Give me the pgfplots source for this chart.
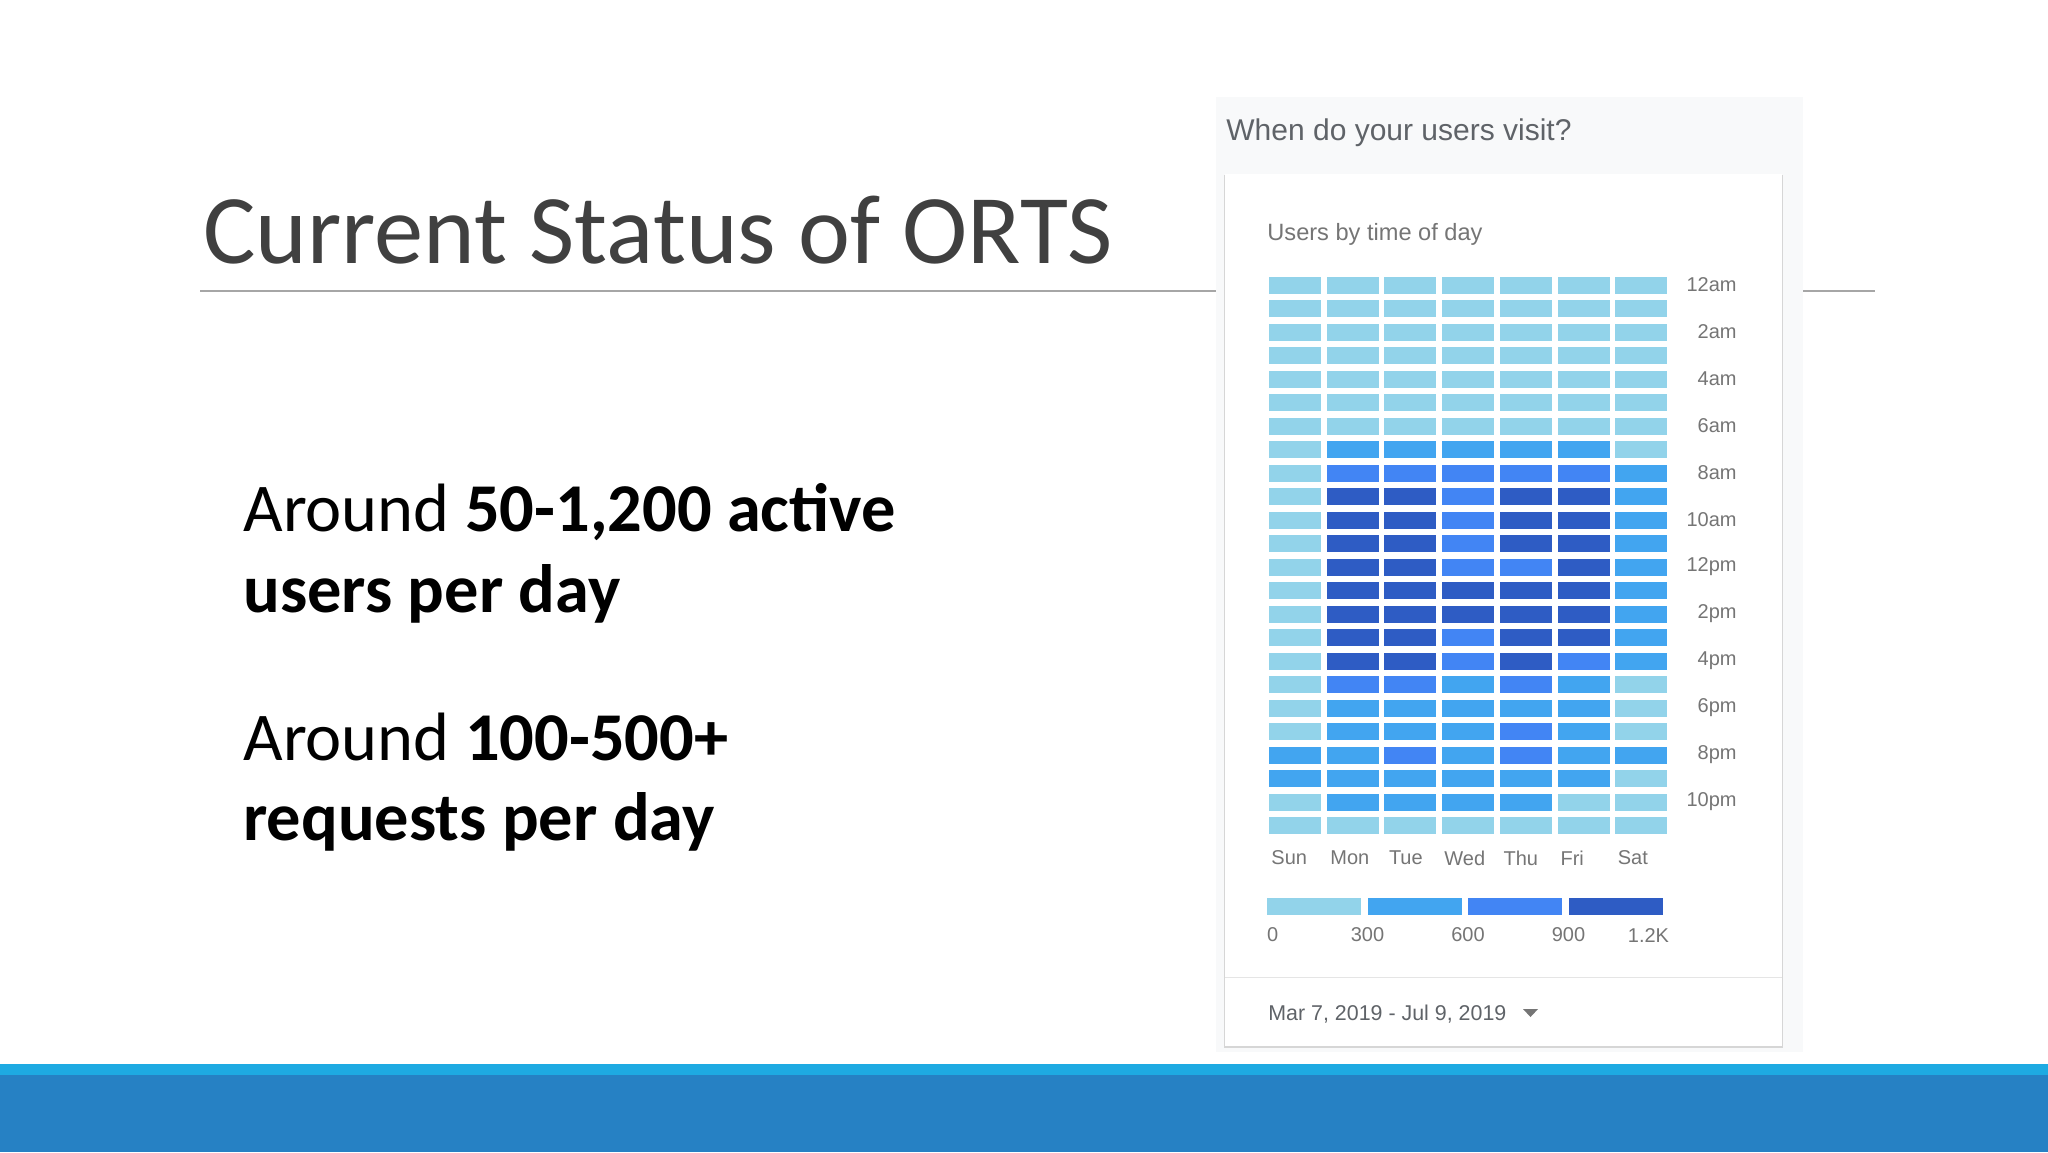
\documentclass[border=0pt]{standalone}
\usepackage{fontspec}
\usepackage{pgfplots}
\pgfplotsset{compat=1.18}
\setmainfont{Carlito}
\newfontfamily\ui{Liberation Sans}

\definecolor{lv1}{RGB}{146,211,234}
\definecolor{lv2}{RGB}{66,165,240}
\definecolor{lv3}{RGB}{66,133,244}
\definecolor{lv4}{RGB}{46,92,196}
\definecolor{titlegray}{RGB}{64,64,64}
\definecolor{rulegray}{RGB}{166,166,166}
\definecolor{panelbg}{RGB}{248,249,250}
\definecolor{uigray}{RGB}{95,99,104}
\definecolor{labgray}{RGB}{117,117,117}
\definecolor{barlight}{RGB}{30,170,226}
\definecolor{bardark}{RGB}{38,129,196}

% one cell of the heat map: 52 x 17 px
\pgfdeclareplotmark{cell}{%
  \pgfpathrectangle{\pgfqpoint{-13pt}{-4.25pt}}{\pgfqpoint{26pt}{8.5pt}}%
  \pgfusepathqfill}

\begin{document}
\begin{tikzpicture}
% slide background, in reference pixels (1px = 0.5pt, y down)
\begin{scope}[x=0.5pt,y=-0.5pt]
  \path (0,0) rectangle (2048,1152);
  \fill[barlight] (0,1064) rectangle (2048,1075);
  \fill[bardark] (0,1075) rectangle (2048,1152);

  \node[anchor=base west, inner sep=0, text=titlegray,
        font=\fontsize{49.2pt}{49.2pt}\selectfont] at (203,263) {Current Status of ORTS};
  \draw[rulegray, line width=1pt] (200,291) -- (1875,291);

  \begin{scope}[every node/.style={anchor=base west, inner sep=0,
        font=\fontsize{34.2pt}{34.2pt}\selectfont}]
    \node at (243,531) {Around \textbf{50-1,200 active}};
    \node at (243,612) {\textbf{users per day}};
    \node at (243,760) {Around \textbf{100-500+}};
    \node at (243,840) {\textbf{requests per day}};
  \end{scope}

  \fill[panelbg] (1216,97) rectangle (1803,1052);
  \fill[black!16] (1224,175) rectangle (1783,1048);
  \fill[white] (1225,174) rectangle (1782,1046);
  \draw[black!10, line width=0.5pt] (1225,977) -- (1782,977);

  \node[anchor=base west, inner sep=0, text=uigray,
        font=\ui\fontsize{15pt}{15pt}\selectfont] at (1226,140) {When do your users visit?};
  \node[anchor=base west, inner sep=0, text=labgray,
        font=\ui\fontsize{11.8pt}{11.8pt}\selectfont] at (1267,240) {Users by time of day};
  \node[anchor=base west, inner sep=0, text=uigray,
        font=\ui\fontsize{10.7pt}{10.7pt}\selectfont] at (1268,1020) {Mar 7, 2019 - Jul 9, 2019};
  \fill[labgray] (1523,1009) -- (1538,1009) -- (1530.5,1017) -- cycle;
\end{scope}

% users by hour (rows) and weekday (columns); a: 0-300, b: 300-600, c: 600-900, d: 900-1.2K
\begin{axis}[
  at={(633.05pt,-136.625pt)}, anchor=north west,
  scale only axis, width=202.125pt, height=282pt,
  xmin=-0.5, xmax=6.5, ymin=-0.5, ymax=23.5, y dir=reverse,
  axis line style={draw=none}, major tick length=0pt,
  xtick={-0.1,0.95,1.92,2.94,3.91,4.8,5.85},
  xticklabels={Sun,Mon,Tue,Wed,Thu,Fri,Sat},
  ytick={0,2,...,22},
  yticklabels={12am,2am,4am,6am,8am,10am,12pm,2pm,4pm,6pm,8pm,10pm},
  yticklabel pos=right,
  yticklabel style={anchor=east, inner sep=0pt, xshift=33.3pt},
  xticklabel style={anchor=center, inner sep=0pt, yshift=-10.4pt},
  ticklabel style={font=\ui\fontsize{10pt}{10pt}\selectfont, text=labgray},
  clip=false,
]
\addplot[scatter, only marks, point meta=explicit symbolic,
  scatter/classes={a={mark=cell,lv1}, b={mark=cell,lv2}, c={mark=cell,lv3}, d={mark=cell,lv4}}]
coordinates {
(0,0)[a] (1,0)[a] (2,0)[a] (3,0)[a] (4,0)[a] (5,0)[a] (6,0)[a]
(0,1)[a] (1,1)[a] (2,1)[a] (3,1)[a] (4,1)[a] (5,1)[a] (6,1)[a]
(0,2)[a] (1,2)[a] (2,2)[a] (3,2)[a] (4,2)[a] (5,2)[a] (6,2)[a]
(0,3)[a] (1,3)[a] (2,3)[a] (3,3)[a] (4,3)[a] (5,3)[a] (6,3)[a]
(0,4)[a] (1,4)[a] (2,4)[a] (3,4)[a] (4,4)[a] (5,4)[a] (6,4)[a]
(0,5)[a] (1,5)[a] (2,5)[a] (3,5)[a] (4,5)[a] (5,5)[a] (6,5)[a]
(0,6)[a] (1,6)[a] (2,6)[a] (3,6)[a] (4,6)[a] (5,6)[a] (6,6)[a]
(0,7)[a] (1,7)[b] (2,7)[b] (3,7)[b] (4,7)[b] (5,7)[b] (6,7)[a]
(0,8)[a] (1,8)[c] (2,8)[c] (3,8)[c] (4,8)[c] (5,8)[c] (6,8)[b]
(0,9)[a] (1,9)[d] (2,9)[d] (3,9)[c] (4,9)[d] (5,9)[d] (6,9)[b]
(0,10)[a] (1,10)[d] (2,10)[d] (3,10)[c] (4,10)[d] (5,10)[d] (6,10)[b]
(0,11)[a] (1,11)[d] (2,11)[d] (3,11)[c] (4,11)[d] (5,11)[d] (6,11)[b]
(0,12)[a] (1,12)[d] (2,12)[d] (3,12)[c] (4,12)[c] (5,12)[d] (6,12)[b]
(0,13)[a] (1,13)[d] (2,13)[d] (3,13)[d] (4,13)[d] (5,13)[d] (6,13)[b]
(0,14)[a] (1,14)[d] (2,14)[d] (3,14)[d] (4,14)[d] (5,14)[d] (6,14)[b]
(0,15)[a] (1,15)[d] (2,15)[d] (3,15)[c] (4,15)[d] (5,15)[d] (6,15)[b]
(0,16)[a] (1,16)[d] (2,16)[d] (3,16)[c] (4,16)[d] (5,16)[c] (6,16)[b]
(0,17)[a] (1,17)[c] (2,17)[c] (3,17)[b] (4,17)[c] (5,17)[b] (6,17)[a]
(0,18)[a] (1,18)[b] (2,18)[b] (3,18)[b] (4,18)[b] (5,18)[b] (6,18)[a]
(0,19)[a] (1,19)[b] (2,19)[b] (3,19)[b] (4,19)[c] (5,19)[b] (6,19)[a]
(0,20)[b] (1,20)[b] (2,20)[c] (3,20)[b] (4,20)[c] (5,20)[b] (6,20)[b]
(0,21)[b] (1,21)[b] (2,21)[b] (3,21)[b] (4,21)[b] (5,21)[b] (6,21)[a]
(0,22)[a] (1,22)[b] (2,22)[b] (3,22)[b] (4,22)[b] (5,22)[a] (6,22)[a]
(0,23)[a] (1,23)[a] (2,23)[a] (3,23)[a] (4,23)[a] (5,23)[a] (6,23)[a]
};
\end{axis}

% colour key
\begin{axis}[
  at={(633.5pt,-457.5pt)}, anchor=south west,
  scale only axis, width=201pt, height=8.5pt,
  xmin=0, xmax=1200, ymin=0, ymax=1,
  axis line style={draw=none}, major tick length=0pt, ytick=\empty,
  xtick={0,300,600,900,1200},
  xticklabels={\rlap{0},300,600,900,\llap{1.2K}},
  xticklabel style={anchor=center, inner sep=0pt, yshift=-10pt,
    font=\ui\fontsize{10pt}{10pt}\selectfont, text=labgray},
  clip=false,
]
\addplot[draw=none, fill=lv1] coordinates {(0,1) (281,1)} \closedcycle;
\addplot[draw=none, fill=lv2] coordinates {(300,1) (581,1)} \closedcycle;
\addplot[draw=none, fill=lv3] coordinates {(600,1) (881,1)} \closedcycle;
\addplot[draw=none, fill=lv4] coordinates {(900,1) (1181,1)} \closedcycle;
\end{axis}
\end{tikzpicture}
\end{document}
